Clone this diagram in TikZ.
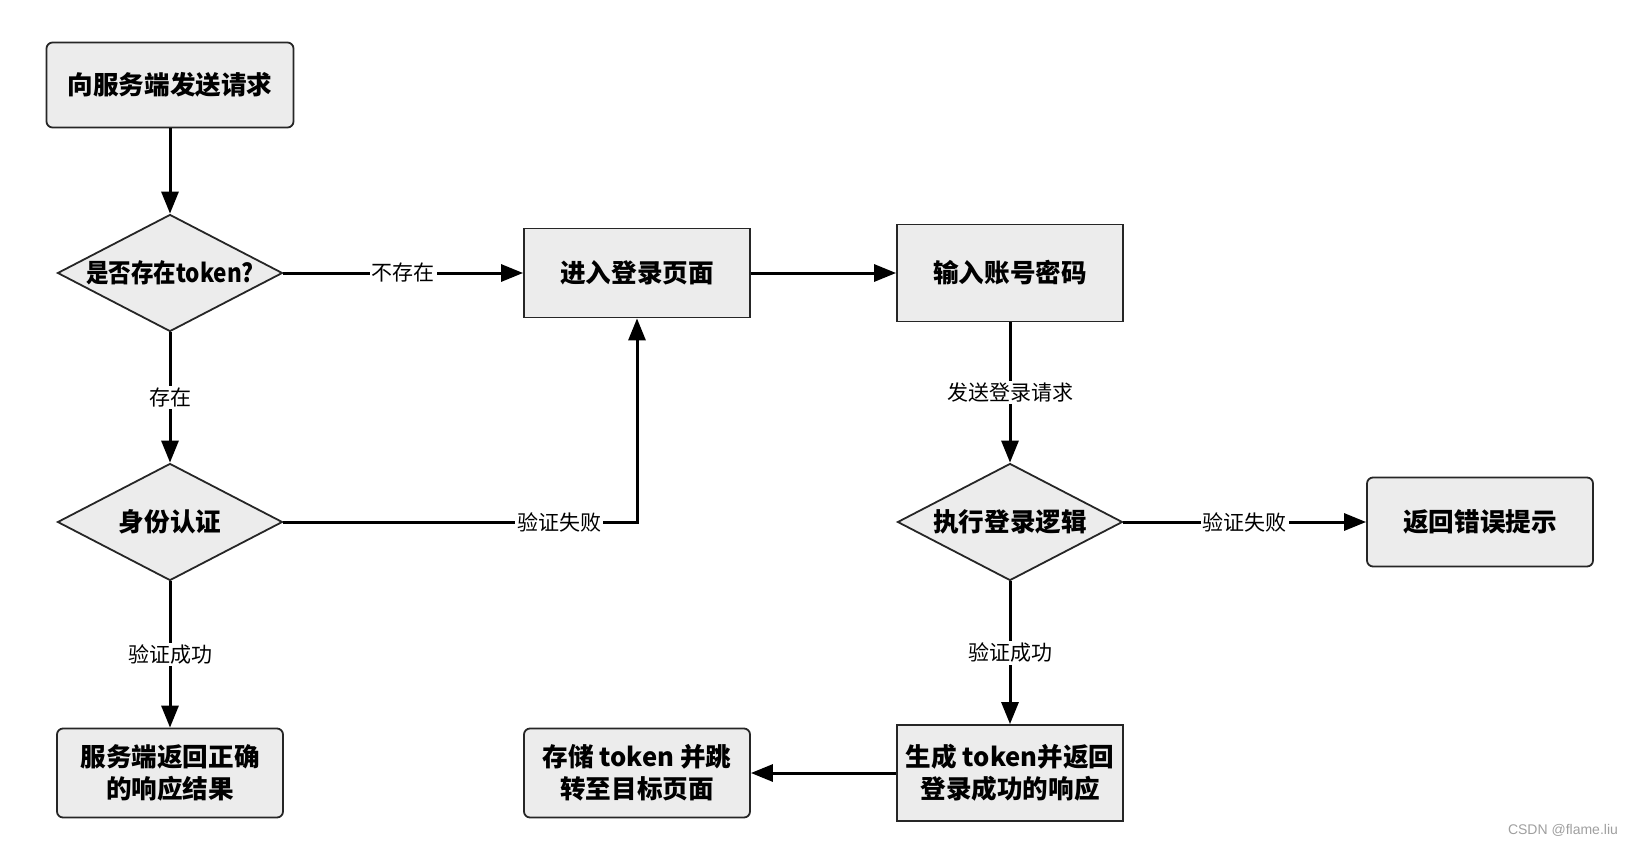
\documentclass[tikz,border=0pt]{standalone}
\usepackage{fontspec}
\newfontfamily\cjk{Noto Sans CJK SC}
\newfontfamily\marksf{Liberation Sans}
\usetikzlibrary{shapes.geometric, arrows.meta, positioning}

\begin{document}
\begin{tikzpicture}[x=0.5pt, y=-0.5pt,
		procbox/.style={draw=black!85, line width=0.9pt, fill=gray!15, minimum width=113pt, minimum height=44.5pt, inner sep=2pt, align=center, font=\cjk\bfseries\fontsize{12.8}{16}\selectfont},
		roundbox/.style={procbox, rounded corners=3pt},
		decision/.style={diamond, draw=black!85, line width=0.9pt, fill=gray!15, shape aspect=1.92, minimum width=112.5pt, minimum height=58.5pt, inner sep=0pt, font=\cjk\bfseries\fontsize{12.8}{16}\selectfont},
		flow/.style={line width=1.5pt, -{Triangle[length=11pt, width=8.5pt]}},
		lbl/.style={fill=white, inner sep=1pt, font=\cjk\fontsize{10.5}{12}\selectfont}]
			\useasboundingbox (0,0) rectangle (1638,846);
			% left column
			\node[roundbox, minimum width=123.5pt, minimum height=42.5pt] (req) at (170,85) {向服务端发送请求};
			\node[decision] (hastoken) at (170,273) {\makebox[60pt]{\scalebox{0.88}[1]{是否存在token?}}};
			\node[decision] (auth) at (170,522) {身份认证};
			\node[roundbox] (result) at (170,773) {服务端返回正确\\的响应结果};
			% middle column
			\node[procbox] (login) at (637,273) {进入登录页面};
			\node[roundbox] (store) at (637,773) {存储 token 并跳\\转至目标页面};
			% right column
			\node[procbox, minimum height=48.5pt] (input) at (1010,273) {输入账号密码};
			\node[decision] (exec) at (1010,522) {执行登录逻辑};
			\node[procbox, minimum height=48pt] (gen) at (1010,773) {生成 token并返回\\登录成功的响应};
			\node[roundbox] (err) at (1480,522) {返回错误提示};
			% connectors
			\draw[flow] (req) -- (hastoken);
			\draw[flow] (hastoken) -- node[lbl] {不存在} (login);
			\draw[flow] (hastoken) -- node[lbl] {存在} (auth);
			\draw[flow] (auth) -| node[lbl, pos=0.39] {验证失败} (login);
			\draw[flow] (auth) -- node[lbl] {验证成功} (result);
			\draw[flow] (login) -- (input);
			\draw[flow] (input) -- node[lbl] {发送登录请求} (exec);
			\draw[flow] (exec) -- node[lbl] {验证失败} (err);
			\draw[flow] (exec) -- node[lbl] {验证成功} (gen);
			\draw[flow] (gen) -- (store);
			\node[anchor=east, text=gray!75, font=\marksf\fontsize{7}{8}\selectfont] (mark) at (1625,830) {CSDN @flame.liu};
		\end{tikzpicture}
\end{document}
